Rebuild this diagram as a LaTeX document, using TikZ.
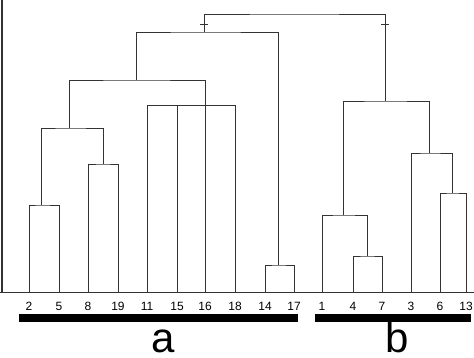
\documentclass[tikz,border=0pt]{standalone}
\usepackage{fontspec}
\setmainfont{Liberation Sans}
\tikzset{
  branch/.style={draw=black!80,line width=0.9pt},
  leaflabel/.style={font=\fontsize{12}{12}\selectfont,inner sep=0pt},
  grouplabel/.style={font=\fontsize{42}{42}\selectfont,inner sep=0pt}
}
\begin{document}
\begin{tikzpicture}[x=1pt,y=-1pt]
\useasboundingbox (0,0) rectangle (474,358);
\foreach \n/\x in {2/29,5/59,8/88,19/118,11/147,15/177,16/205,18/235,
                   14/265,17/294,1/322,4/353,7/382,3/411,6/440,13/466} {
  \coordinate (l\n) at (\x,292);
  \node[leaflabel,anchor=base] (t\n) at (\x,310) {\n};
}
\coordinate (base0) at (0,292);
\coordinate (base1) at (474,292);
\coordinate (axtop) at (2,0);
\coordinate (axbot) at (2,292);
\draw[black!80,line width=2.4pt] (axtop) -- (axbot);
\draw[branch] (base0) -- (base1);
% group a
\coordinate (j25) at (41,205);
\coordinate (j819) at (103,164);
\coordinate (jaa) at (69,128);
\coordinate (jpoly) at (147,105);
\coordinate (jab) at (136,80);
\coordinate (j1417) at (278,265);
\coordinate (ja) at (204,32);
\draw[branch] (l2) |- (j25) -| (l5);
\draw[branch] (l8) |- (j819) -| (l19);
\draw[branch] (j25) |- (jaa) -| (j819);
\draw[branch] (l11) |- (jpoly) -| (l18);
\draw[branch] (l15) -- (l15 |- jpoly);
\draw[branch] (jaa) |- (jab) -| (l16);
\draw[branch] (l14) |- (j1417) -| (l17);
\draw[branch] (jab) |- (ja) -| (j1417);
% group b
\coordinate (j47) at (367,256);
\coordinate (j147) at (343,215);
\coordinate (j613) at (452,193);
\coordinate (j3613) at (429,153);
\coordinate (jb) at (385,101);
\coordinate (root) at (294,14);
\draw[branch] (l4) |- (j47) -| (l7);
\draw[branch] (l1) |- (j147) -| (j47);
\draw[branch] (l6) |- (j613) -| (l13);
\draw[branch] (l3) |- (j3613) -| (j613);
\draw[branch] (j147) |- (jb) -| (j3613);
\draw[branch] (ja) |- (root) -| (jb);
\coordinate (ticka) at (204,24);
\coordinate (tickb) at (385,24);
\draw[branch] ([xshift=-4pt]ticka) -- ([xshift=4pt]ticka);
\draw[branch] ([xshift=-4pt]tickb) -- ([xshift=4pt]tickb);
% bars
\fill (19,314) rectangle (298,322);
\fill (315,314) rectangle (471,322);
\node[grouplabel,anchor=base] (ga) at (163,352) {a};
\node[grouplabel,anchor=base] (gb) at (397,352) {b};
\end{tikzpicture}
\end{document}
